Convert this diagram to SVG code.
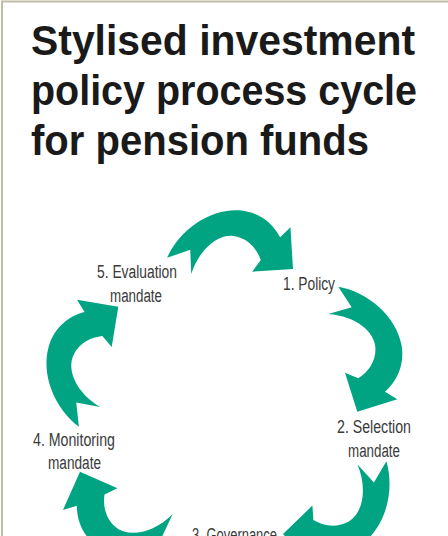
<svg xmlns="http://www.w3.org/2000/svg" xmlns:xlink="http://www.w3.org/1999/xlink" width="448" height="536" viewBox="0 0 448 536">
<style>
.title{font-family:"Liberation Sans","DejaVu Sans",sans-serif;font-weight:bold;font-size:42px;fill:#1a1a1a}
.lbl{font-family:"Liberation Sans","DejaVu Sans",sans-serif;font-size:18px;fill:#3a3a3a}
.arw{fill:#00a482}
</style>
<defs>
<path id="arrow" d="M338.3,286.7 C368,292 396,316 401.5,345 C405,365 397,381 385,391.7 L397.3,399.3 L357.3,411.7 L345,372.7 L358.3,378.3 C368,372 375.5,362 375.5,349 C375.5,332 356,316 328.3,314 L351.7,307.3 Z"/>
</defs>
<rect x="0" y="0" width="448" height="536" fill="#ffffff"/>
<path d="M2,536 V1.5 H448" fill="none" stroke="#bfbda8" stroke-width="2"/>
<g id="title">
<text class="title" x="31" y="55" textLength="384" lengthAdjust="spacingAndGlyphs">Stylised investment</text>
<text class="title" x="31" y="105" textLength="386" lengthAdjust="spacingAndGlyphs">policy process cycle</text>
<text class="title" x="31" y="155" textLength="338" lengthAdjust="spacingAndGlyphs">for pension funds</text>
</g>
<g id="connectors">
<use xlink:href="#arrow" class="arw" transform="translate(293,269) rotate(-76.3) translate(-357.3,-411.7)"/>
<use xlink:href="#arrow" class="arw"/>
<use xlink:href="#arrow" class="arw" transform="translate(283,534) rotate(63.5) translate(-357.3,-411.7)"/>
<use xlink:href="#arrow" class="arw" transform="translate(80,471.7) rotate(131.2) translate(-357.3,-411.7)"/>
<use xlink:href="#arrow" class="arw" transform="translate(118.3,306.7) rotate(-153.2) translate(-357.3,-411.7)"/>
</g>
<g id="node-policy">
<text class="lbl" x="283" y="290" textLength="52" lengthAdjust="spacingAndGlyphs">1. Policy</text>
</g>
<g id="node-selection">
<text class="lbl" x="337" y="433" textLength="74" lengthAdjust="spacingAndGlyphs">2. Selection</text>
<text class="lbl" x="348" y="457" textLength="52" lengthAdjust="spacingAndGlyphs">mandate</text>
</g>
<g id="node-governance">
<text class="lbl" x="192" y="541" textLength="85" lengthAdjust="spacingAndGlyphs">3. Governance</text>
</g>
<g id="node-monitoring">
<text class="lbl" x="33" y="446" textLength="82" lengthAdjust="spacingAndGlyphs">4. Monitoring</text>
<text class="lbl" x="48" y="469" textLength="53" lengthAdjust="spacingAndGlyphs">mandate</text>
</g>
<g id="node-evaluation">
<text class="lbl" x="97" y="278" textLength="80" lengthAdjust="spacingAndGlyphs">5. Evaluation</text>
<text class="lbl" x="110" y="302" textLength="52" lengthAdjust="spacingAndGlyphs">mandate</text>
</g>
</svg>
